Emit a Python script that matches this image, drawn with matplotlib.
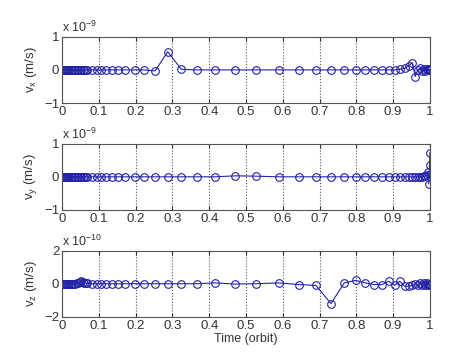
import numpy as np
import matplotlib.pyplot as plt

# -----------------------------
# Data
# -----------------------------
t = [0.000, 0.002, 0.004, 0.007, 0.010, 0.013, 0.016, 0.020, 0.024, 0.028,
     0.032, 0.036, 0.040, 0.044, 0.048, 0.052, 0.056, 0.060, 0.064, 0.068,
     0.082, 0.095, 0.107, 0.119, 0.135, 0.153, 0.171, 0.198, 0.223, 0.253,
     0.287, 0.324, 0.366, 0.415, 0.471, 0.527, 0.589, 0.643, 0.690, 0.731,
     0.767, 0.798, 0.824, 0.849, 0.870, 0.888, 0.904, 0.918, 0.931, 0.943,
     0.952, 0.960, 0.967, 0.973, 0.978, 0.983, 0.987, 0.991, 0.994, 0.997,
     0.999, 1.000]

# v_x in units of 1e-9 m/s
vx = [0, 0, 0, 0, 0, 0, 0, 0, 0, 0,
      0, 0, 0, 0, 0, 0, 0, 0, 0, 0,
      0, 0, 0, 0, 0, 0, 0, 0, 0, -0.03,
      0.55, 0.02, 0, 0, 0, 0, 0, 0, 0, 0,
      0, 0, 0, 0, 0, 0, 0, 0.02, 0.05, 0.12,
      0.22, -0.2, 0.0, 0.05, -0.03, 0.03, -0.02, 0.02, 0.0, 0.02,
      0.0, 0.02]

# v_y in units of 1e-9 m/s
vy = [0, 0, 0, 0, 0, 0, 0, 0, 0, 0,
      0, 0, 0, 0, 0, 0, 0, 0, 0, 0,
      0, 0, 0, 0, 0, 0, 0, 0, 0, 0,
      0, 0, 0, 0, 0.03, 0.02, 0, 0, 0, 0,
      0, 0, 0, 0, 0, 0, 0, 0, 0, 0,
      0, 0, 0, 0, 0, 0.01, 0.02, 0.05, 0.15, -0.22,
      0.37, 0.73]

# v_z in units of 1e-10 m/s
vz = [0, 0, 0, 0, 0, 0, 0, 0, 0, 0,
      0, 0, 0.03, 0.05, 0.1, 0.15, 0.12, 0.05, 0.03, 0.02,
      0, 0, 0, 0, 0, 0, 0, 0, 0, 0,
      0, 0, 0, 0.05, -0.02, 0.0, 0.05, -0.05, -0.1, -1.2,
      0.05, 0.2, 0.05, -0.05, -0.05, 0.15, -0.1, 0.15, -0.15, -0.15,
      -0.1, 0.0, -0.1, 0.05, -0.05, 0.05, -0.05, 0.05, -0.05, 0.0,
      -0.05, -0.05]

series = [vx, vy, vz]
ylabels = [r'v$_x$ (m/s)', r'v$_y$ (m/s)', r'v$_z$ (m/s)']
exponents = [r'x 10$^{-9}$', r'x 10$^{-9}$', r'x 10$^{-10}$']
ylims = [(-1, 1), (-1, 1), (-2, 2)]
yticks = [[-1, 0, 1], [-1, 0, 1], [-2, 0, 2]]
xticks = [0, 0.1, 0.2, 0.3, 0.4, 0.5, 0.6, 0.7, 0.8, 0.9, 1]
xticklabels = ['0', '0.1', '0.2', '0.3', '0.4', '0.5', '0.6', '0.7', '0.8', '0.9', '1']

# -----------------------------
# Figure
# -----------------------------
plt.rcParams['font.family'] = ['Liberation Sans', 'DejaVu Sans']
plt.rcParams['mathtext.fontset'] = 'custom'
plt.rcParams['mathtext.rm'] = 'Liberation Sans'
plt.rcParams['mathtext.it'] = 'Liberation Sans'

fig = plt.figure(figsize=(4.74, 3.54), dpi=100)
bottoms = [0.709, 0.407, 0.105]
height = 0.187
line_col = '#2323a8'
frame_col = '#555555'

for i in range(3):
    ax = fig.add_axes([0.131, bottoms[i], 0.776, height])
    ax.plot(t, series[i], '-o', color=line_col, lw=0.8,
            markersize=5.5, markerfacecolor='none', markeredgewidth=0.8)
    ax.set_xlim(0, 1)
    ax.set_ylim(*ylims[i])
    ax.set_xticks(xticks)
    ax.set_xticklabels(xticklabels)
    ax.set_yticks(yticks[i])
    ax.xaxis.grid(True, linestyle=':', color='#555555', lw=0.8)
    ax.tick_params(direction='in', length=3, labelsize=9.5, colors='#333333',
                   top=True, right=True, pad=2)
    for s in ax.spines.values():
        s.set_color(frame_col)
        s.set_linewidth(0.8)
    ax.set_ylabel(ylabels[i], fontsize=9.5, color='#333333', labelpad=4)
    ax.text(0.0, 1.03, exponents[i], transform=ax.transAxes, fontsize=9,
            color='#333333', ha='left', va='bottom')
    if i == 2:
        ax.set_xlabel('Time (orbit)', fontsize=9, color='#333333', labelpad=1)

fig.savefig('out.png', dpi=100)
